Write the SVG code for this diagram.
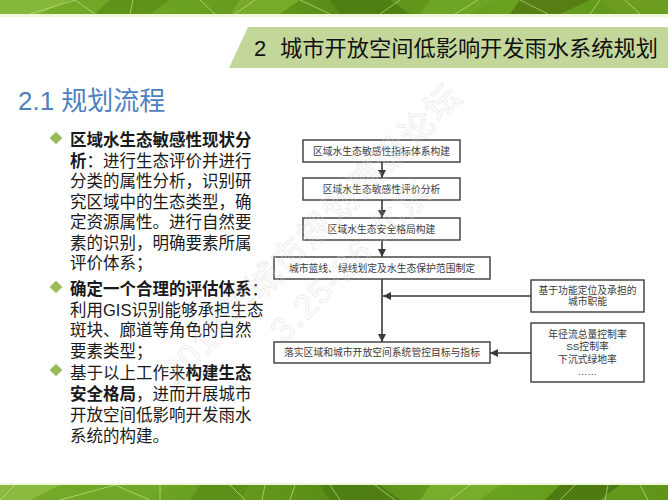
<svg xmlns="http://www.w3.org/2000/svg" width="668" height="500" viewBox="0 0 668 500">
<defs>
<style>
.cn{font-family:"Liberation Sans","Noto Sans CJK SC",sans-serif}
.body{font-size:16.5px;fill:#1a1a1a}
.b{font-weight:bold}
.box{fill:#fff;stroke:#3a3a3a;stroke-width:1.4}
.bt{font-size:9.8px;fill:#3a3a3a;text-anchor:middle}
.ln{stroke:#3a3a3a;stroke-width:1.6;fill:none}
.dia{fill:#9bbb59}
.wm{font-family:"Liberation Sans","Noto Sans CJK SC",sans-serif;font-size:34px;fill:none;stroke:#d6d6d6;stroke-width:0.7;opacity:0.55}
.pl{stroke:#cfe59a;stroke-width:0.8;fill:none;opacity:0.8}
</style>
<linearGradient id="g1" x1="0" y1="0" x2="1" y2="0">
<stop offset="0" stop-color="#78ad2c"/>
<stop offset="0.3" stop-color="#6aa020"/>
<stop offset="0.5" stop-color="#5a8c17"/>
<stop offset="0.75" stop-color="#6aa11f"/>
<stop offset="1" stop-color="#5f9419"/>
</linearGradient>
<marker id="ah" viewBox="0 0 10 10" refX="10" refY="5" markerWidth="5" markerHeight="5" orient="auto">
<path d="M0,0 L10,5 L0,10 z" fill="#3a3a3a"/>
</marker>
</defs>
<rect width="668" height="500" fill="#fff"/>

<!-- top band -->
<g id="topband">
<rect x="0" y="0" width="668" height="14" fill="url(#g1)"/>
<polygon points="0,0 70,0 40,14 0,14" fill="#84b73a"/>
<polygon points="110,0 170,0 150,14 95,14" fill="#5f9219"/>
<polygon points="240,0 300,0 280,14 230,14" fill="#78aa2a"/>
<polygon points="330,0 390,0 410,14 340,14" fill="#4f7f12"/>
<polygon points="430,0 500,0 470,14 420,14" fill="#6ea524"/>
<polygon points="520,0 590,0 560,14 510,14" fill="#557f14"/>
<polygon points="600,0 668,0 668,14 620,14" fill="#6c9d1f"/>
<path class="pl" d="M30,14 L75,0 M75,0 L95,14 M130,14 L133,0 M200,0 L215,14 M255,0 L235,14 M300,0 L330,14 M380,14 L400,0 M455,14 L478,0 M520,0 L548,14 M590,14 L600,0 M625,0 L640,14"/>
<rect x="0" y="14" width="668" height="3" fill="#eef6dc"/>
</g>

<!-- bottom band -->
<g id="bottomband">
<rect x="0" y="483" width="668" height="3" fill="#eef6dc"/>
<rect x="0" y="485" width="668" height="15" fill="url(#g1)"/>
<polygon points="0,485 60,485 30,500 0,500" fill="#8abb40"/>
<polygon points="110,485 170,485 150,500 100,500" fill="#72a82a"/>
<polygon points="200,485 250,485 240,500 190,500" fill="#5d9019"/>
<polygon points="320,485 380,485 400,500 330,500" fill="#4f7f12"/>
<polygon points="430,485 500,485 480,500 420,500" fill="#77ad2b"/>
<polygon points="560,485 620,485 600,500 545,500" fill="#4e7a12"/>
<path class="pl" d="M0,500 L15,485 M60,500 L115,485 M115,485 L150,500 M160,485 L160,500 M230,485 L245,500 M265,485 L262,500 M295,485 L290,500 M330,485 L340,500 M375,485 L395,500 M450,500 L470,485 M560,500 L575,485 M608,485 L605,500 M640,485 L648,500"/>
</g>

<!-- header -->
<g id="header">
<polygon points="248,27 668,27 668,68 229,68" fill="#c4d79b"/>
<text x="254" y="56" class="cn" font-size="22" fill="#111">2</text>
<text x="280" y="56" class="cn" font-size="21.5" fill="#111" textLength="378" lengthAdjust="spacingAndGlyphs">城市开放空间低影响开发雨水系统规划</text>
</g>

<!-- title -->
<text id="title" x="18" y="110" class="cn" font-size="26" fill="#4f81c0">2.1 规划流程</text>

<!-- bullet text -->
<g id="bullets" class="cn body">
<rect class="dia" x="51.5" y="133.5" width="9" height="9" transform="rotate(45 56 138)"/>
<rect class="dia" x="51.5" y="282.5" width="9" height="9" transform="rotate(45 56 287)"/>
<rect class="dia" x="51.5" y="365.5" width="9" height="9" transform="rotate(45 56 370)"/>
<text x="70" y="146"><tspan class="b">区域水生态敏感性现状分</tspan></text>
<text x="70" y="166.5"><tspan class="b">析</tspan>：进行生态评价并进行</text>
<text x="70" y="187">分类的属性分析，识别研</text>
<text x="70" y="207.5">究区域中的生态类型，确</text>
<text x="70" y="228">定资源属性。进行自然要</text>
<text x="70" y="248.5">素的识别，明确要素所属</text>
<text x="70" y="269">评价体系；</text>
<text x="70" y="295"><tspan class="b">确定一个合理的评估体系</tspan>：</text>
<text x="70" y="315.5">利用GIS识别能够承担生态</text>
<text x="70" y="336">斑块、廊道等角色的自然</text>
<text x="70" y="356.5">要素类型；</text>
<text x="70" y="378.5">基于以上工作来<tspan class="b">构建生态</tspan></text>
<text x="70" y="399.5"><tspan class="b">安全格局</tspan>，进而开展城市</text>
<text x="70" y="420.5">开放空间低影响开发雨水</text>
<text x="70" y="441.5">系统的构建。</text>
</g>

<!-- connectors -->
<g id="connectors">
<line class="ln" x1="382" y1="162" x2="382" y2="178" marker-end="url(#ah)"/>
<line class="ln" x1="382" y1="200" x2="382" y2="218" marker-end="url(#ah)"/>
<line class="ln" x1="382" y1="240" x2="382" y2="257" marker-end="url(#ah)"/>
<line class="ln" x1="382" y1="279" x2="382" y2="342" marker-end="url(#ah)"/>
<line class="ln" x1="531" y1="296" x2="383" y2="296" marker-end="url(#ah)"/>
<line class="ln" x1="531" y1="353" x2="490" y2="353" marker-end="url(#ah)"/>
</g>

<g id="n1"><rect class="box" x="303" y="140" width="157" height="22"/><text class="cn bt" x="381.5" y="154.5">区域水生态敏感性指标体系构建</text></g>
<g id="n2"><rect class="box" x="303" y="178" width="157" height="22"/><text class="cn bt" x="381.5" y="192.5">区域水生态敏感性评价分析</text></g>
<g id="n3"><rect class="box" x="303" y="218" width="157" height="22"/><text class="cn bt" x="381.5" y="232.5">区域水生态安全格局构建</text></g>
<g id="n4"><rect class="box" x="274" y="257" width="216" height="22"/><text class="cn bt" x="382" y="271.5">城市蓝线、绿线划定及水生态保护范围制定</text></g>
<g id="n5"><rect class="box" x="274" y="342" width="216" height="21"/><text class="cn bt" x="382" y="356">落实区域和城市开放空间系统管控目标与指标</text></g>
<g id="n6"><rect class="box" x="531" y="280" width="113" height="32"/><text class="cn bt" x="587.5" y="293.5">基于功能定位及承担的</text><text class="cn bt" x="587.5" y="305">城市职能</text></g>
<g id="n7"><rect class="box" x="531" y="323" width="113" height="59"/><text class="cn bt" x="587.5" y="337.5">年径流总量控制率</text><text class="cn bt" x="587.5" y="350">SS控制率</text><text class="cn bt" x="587.5" y="362.5">下沉式绿地率</text><text class="cn bt" x="587.5" y="375" font-size="7">……</text></g>

<!-- watermark -->
<g id="watermark">
<text class="wm" transform="translate(176,386) rotate(-45)" letter-spacing="2">2017年城市规划建设论坛</text>
<text class="wm" transform="translate(284,344) rotate(-45)" letter-spacing="2">3.25-26 北京</text>
</g>
</svg>
